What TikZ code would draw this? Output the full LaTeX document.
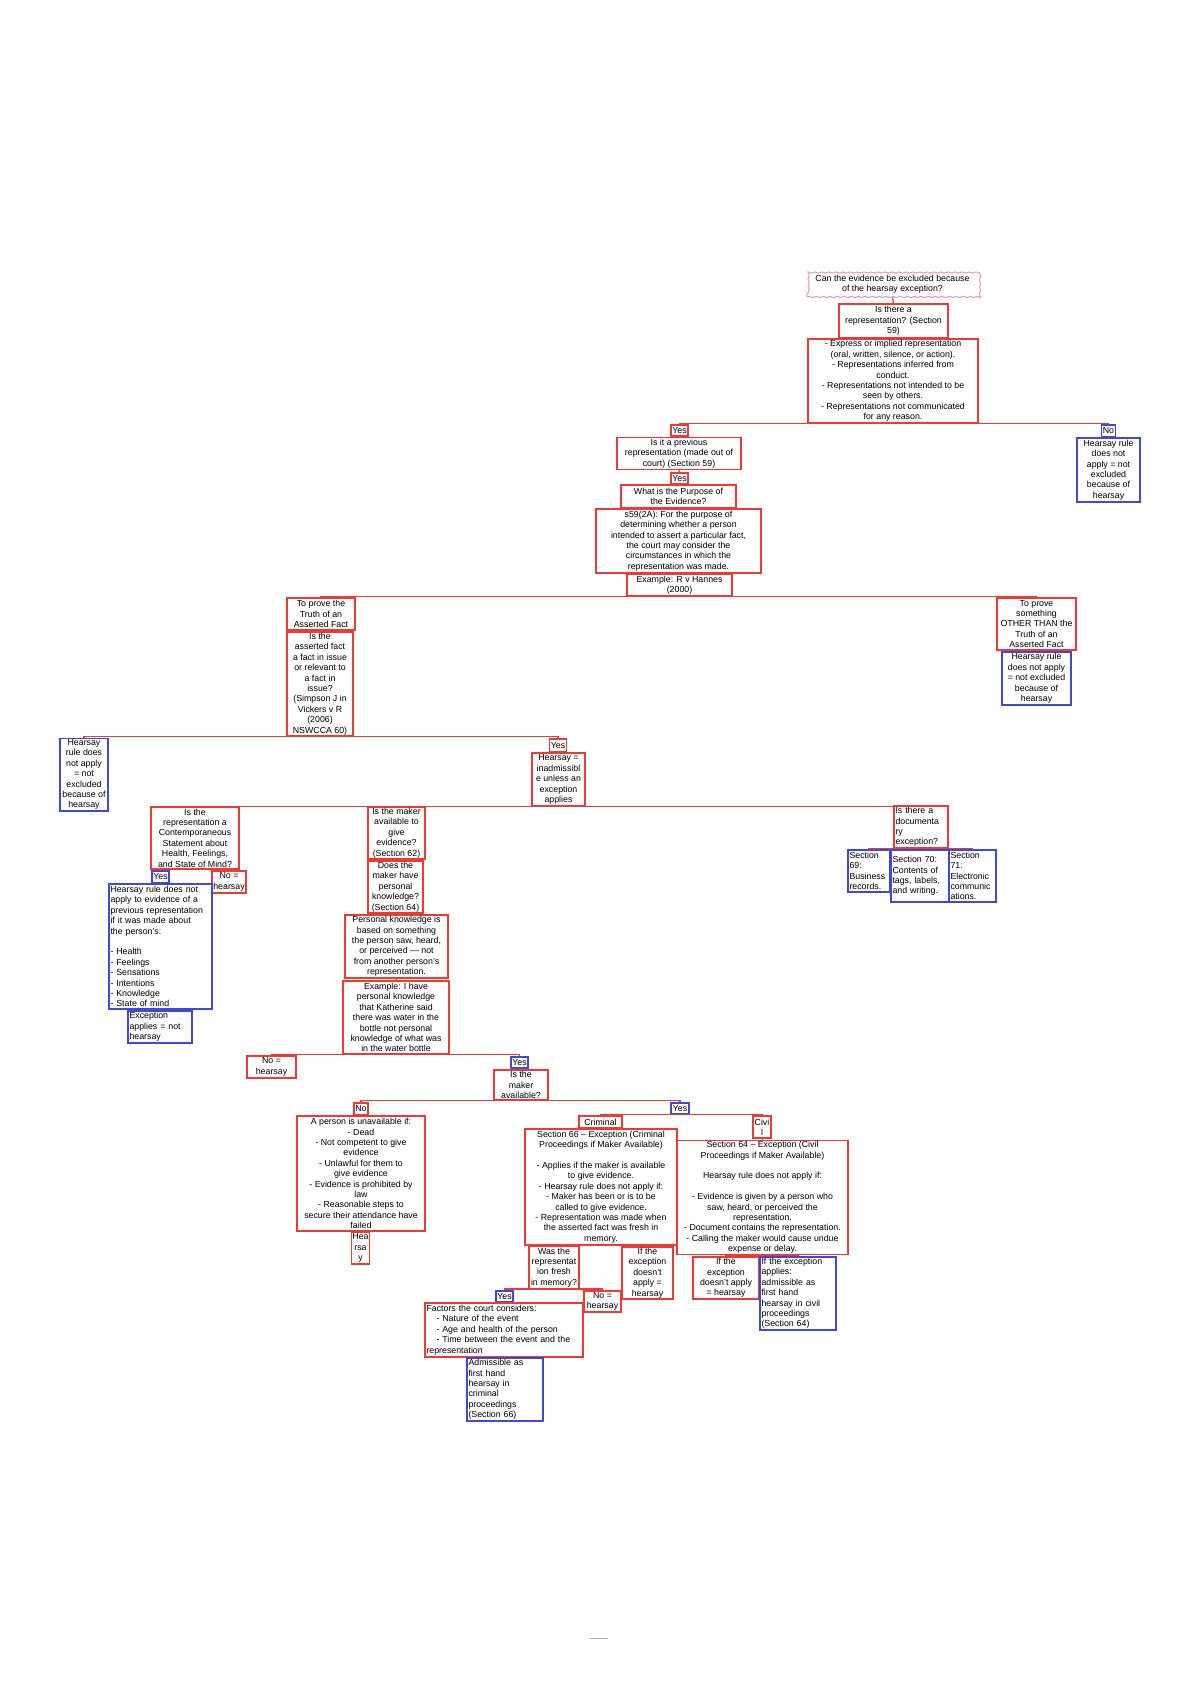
\documentclass[tikz,border=0pt]{standalone}
\usepackage{fontspec}
\setmainfont{Liberation Sans}
\usetikzlibrary{decorations.pathmorphing}
\definecolor{rd}{RGB}{238,58,50}
\definecolor{bl}{RGB}{62,72,220}
\definecolor{pk}{RGB}{232,150,200}
\tikzset{
 base/.style={font=\fontsize{8.8}{10.4}\selectfont, inner sep=1.2pt, align=center, line width=1.3pt},
 rbox/.style={base, draw=rd},
 bbox/.style={base, draw=bl},
 conn/.style={draw=rd, line width=1.2pt},
 titlebox/.style={base, draw=pk, line width=1pt, decorate, decoration={snake, amplitude=0.6pt, segment length=7pt}},
}
\newcommand\mybox[7]{%
 \pgfmathsetmacro\bxw{#5-#3}%
 \pgfmathsetmacro\bxh{#6-#4}%
 \pgfmathsetmacro\bxx{(#3+#5)/2}%
 \pgfmathsetmacro\bxy{(#4+#6)/2}%
 \node[#2, minimum width=\bxw pt, minimum height=\bxh pt] (#1) at (\bxx,\bxy) {#7};}
\newcommand\myboxl[7]{%
 \pgfmathsetmacro\bxw{#5-#3}%
 \pgfmathsetmacro\bxh{#6-#4}%
 \pgfmathsetmacro\bxt{#5-#3-3}%
 \pgfmathsetmacro\bxx{(#3+#5)/2}%
 \pgfmathsetmacro\bxy{(#4+#6)/2}%
 \node[#2, align=left, text width=\bxt pt, minimum width=\bxw pt, minimum height=\bxh pt] (#1) at (\bxx,\bxy) {#7};}
\begin{document}
\begin{tikzpicture}[x=1pt,y=-1pt]
\fill[white] (0,0) rectangle (1200,1698);
\useasboundingbox (0,0) rectangle (1200,1698);

\mybox{title}{titlebox}{807}{271}{978}{297}{Can the evidence be excluded because\\of the hearsay exception?}
\mybox{rep}{rbox}{839}{304}{948}{338}{Is there a\\representation? (Section\\59)}
\mybox{list}{rbox}{808}{339}{978}{423}{- Express or implied representation\\(oral, written, silence, or action).\\- Representations inferred from\\conduct.\\- Representations not intended to be\\seen by others.\\- Representations not communicated\\for any reason.}
\mybox{yes1}{rbox}{672}{425}{687}{436}{Yes}
\mybox{no1}{bbox}{1102}{425}{1115}{437}{No}
\mybox{hnot1}{bbox}{1077}{438}{1140}{502}{Hearsay rule\\does not\\apply = not\\excluded\\because of\\hearsay}
\mybox{prev}{rbox}{617}{438}{741}{469}{Is it a previous\\representation (made out of\\court) (Section 59)}
\mybox{yes2}{rbox}{672}{473}{687}{484}{Yes}
\mybox{purpose}{rbox}{621}{485}{736}{508}{What is the Purpose of\\the Evidence?}
\mybox{sfn}{rbox}{596}{509}{761}{573}{s59(2A): For the purpose of\\determining whether a person\\intended to assert a particular fact,\\the court may consider the\\circumstances in which the\\representation was made.}
\mybox{hannes}{rbox}{627}{574}{732}{596}{Example: R v Hannes\\(2000)}
\mybox{prove1}{rbox}{287}{598}{355}{630}{To prove the\\Truth of an\\Asserted Fact}
\mybox{simpson}{rbox}{287}{632}{353}{736}{Is the\\asserted fact\\a fact in issue\\or relevant to\\a fact in\\issue?\\(Simpson J in\\Vickers v R\\(2006)\\NSWCCA 60)}
\mybox{prove2}{rbox}{997}{598}{1076}{650}{To prove\\something\\OTHER THAN the\\Truth of an\\Asserted Fact}
\mybox{hnot3}{bbox}{1002}{652}{1071}{705}{Hearsay rule\\does not apply\\= not excluded\\because of\\hearsay}
\mybox{hnot2}{bbox}{60}{739}{108}{810}{Hearsay\\rule does\\not apply\\= not\\excluded\\because of\\hearsay}
\mybox{yes3}{rbox}{550}{739}{566}{752}{Yes}
\mybox{inadm}{rbox}{532}{753}{585}{806}{Hearsay =\\inadmissibl\\e unless an\\exception\\applies}
\mybox{contemp}{rbox}{151}{807}{239}{869}{Is the\\representation a\\Contemporaneous\\Statement about\\Health, Feelings,\\and State of Mind?}
\mybox{yesC}{bbox}{153}{871}{168}{883}{Yes}
\mybox{noC}{rbox}{212}{871}{246}{893}{No =\\hearsay}
\myboxl{hrule}{bbox}{109}{884}{212}{1009}{Hearsay rule does not\\apply to evidence of a\\previous representation\\if it was made about\\the person's:\\[10.4pt]- Health\\- Feelings\\- Sensations\\- Intentions\\- Knowledge\\- State of mind}
\myboxl{excC}{bbox}{128}{1011}{192}{1043}{Exception\\applies = not\\hearsay}
\mybox{maker}{rbox}{368}{807}{425}{859}{Is the maker\\available to\\give\\evidence?\\(Section 62)}
\mybox{pk}{rbox}{368}{861}{423}{913}{Does the\\maker have\\personal\\knowledge?\\(Section 64)}
\mybox{pkdef}{rbox}{345}{915}{448}{978}{Personal knowledge is\\based on something\\the person saw, heard,\\or perceived — not\\from another person's\\representation.}
\mybox{pkex}{rbox}{343}{981}{449}{1054}{Example: I have\\personal knowledge\\that Katherine said\\there was water in the\\bottle not personal\\knowledge of what was\\in the water bottle}
\myboxl{doc}{rbox}{894}{806}{948}{848}{Is there a\\documenta\\ry\\exception?}
\myboxl{s69}{bbox}{848}{850}{890}{892}{Section\\69:\\Business\\records.}
\myboxl{s70}{bbox}{891}{850}{949}{902}{Section 70:\\Contents of\\tags, labels,\\and writing.}
\myboxl{s71}{bbox}{949}{850}{996}{902}{Section\\71:\\Electronic\\communic\\ations.}
\mybox{noH3}{rbox}{247}{1056}{296}{1078}{No =\\hearsay}
\mybox{yes4}{bbox}{511}{1057}{528}{1068}{Yes}
\mybox{maker2}{rbox}{494}{1070}{548}{1100}{Is the\\maker\\available?}
\mybox{no4}{rbox}{354}{1103}{368}{1115}{No}
\mybox{yes5}{bbox}{671}{1103}{689}{1114}{Yes}
\mybox{unav}{rbox}{297}{1116}{425}{1231}{A person is unavailable if:\\- Dead\\- Not competent to give\\evidence\\- Unlawful for them to\\give evidence\\- Evidence is prohibited by\\law\\- Reasonable steps to\\secure their attendance have\\failed}
\mybox{hea}{rbox}{352}{1232}{369}{1264}{Hea\\rsa\\y}
\mybox{crim}{rbox}{579}{1116}{622}{1128}{Criminal}
\mybox{civ}{rbox}{753}{1116}{771}{1138}{Civi\\l}
\mybox{crimbig}{rbox}{525}{1129}{677}{1245}{Section 66 – Exception (Criminal\\Proceedings if Maker Available)\\[10.4pt]- Applies if the maker is available\\to give evidence.\\- Hearsay rule does not apply if:\\- Maker has been or is to be\\called to give evidence.\\- Representation was made when\\the asserted fact was fresh in\\memory.}
\mybox{civbig}{rbox}{677}{1141}{848}{1254}{Section 64 – Exception (Civil\\Proceedings if Maker Available)\\[10.4pt]Hearsay rule does not apply if:\\[10.4pt]- Evidence is given by a person who\\saw, heard, or perceived the\\representation.\\- Document contains the representation.\\- Calling the maker would cause undue\\expense or delay.}
\mybox{fresh}{rbox}{529}{1247}{579}{1288}{Was the\\representat\\ion fresh\\in memory?}
\mybox{ifnot1}{rbox}{622}{1247}{673}{1299}{If the\\exception\\doesn't\\apply =\\hearsay}
\mybox{yes6}{bbox}{497}{1291}{512}{1302}{Yes}
\mybox{noH5}{rbox}{584}{1291}{621}{1312}{No =\\hearsay}
\mybox{ifnot2}{rbox}{693}{1257}{759}{1299}{If the\\exception\\doesn't apply\\= hearsay}
\myboxl{ifapp}{bbox}{760}{1257}{836}{1330}{If the exception\\applies:\\admissible as\\first hand\\hearsay in civil\\proceedings\\(Section 64)}
\myboxl{factors}{rbox}{425}{1303}{583}{1357}{Factors the court considers:\\\hspace*{10pt}- Nature of the event\\\hspace*{10pt}- Age and health of the person\\\hspace*{10pt}- Time between the event and the\\representation}
\myboxl{adm}{bbox}{467}{1358}{543}{1421}{Admissible as\\first hand\\hearsay in\\criminal\\proceedings\\(Section 66)}

% connectors
\draw[conn] (title.south) -- (rep.north);
\draw[conn] (yes1.north) |- (list.south) -| (no1.north);
\draw[conn] (no1.south) -- (hnot1.north);
\draw[conn] (yes1.south) -- (prev.north);
\draw[conn] (prev.south) -- (yes2.north);
\draw[conn] (yes2.south) -- (purpose.north);
\draw[conn] (prove1.north) |- (hannes.south) -| (prove2.north);
\draw[conn] (prove1.south) -- (simpson.north);
\draw[conn] (prove2.south) -- (hnot3.north);
\draw[conn] (hnot2.north) |- (simpson.south) -| (yes3.north);
\draw[conn] (yes3.south) -- (inadm.north);
\draw[conn] (contemp.north) |- (inadm.south) -| (doc.north);
\draw[conn] (yesC.north) |- (contemp.south) -| (noC.north);
\draw[conn] (yesC.south) -- (hrule.north);
\draw[conn] (hrule.south) -- (excC.north);
\draw[conn] (maker.south) -- (pk.north);
\draw[conn] (pk.south) -- (pkdef.north);
\draw[conn] (pkdef.south) -- (pkex.north);
\draw[conn] (noH3.north) |- (pkex.south) -| (yes4.north);
\draw[conn] (yes4.south) -- (maker2.north);
\draw[conn] (no4.north) |- (maker2.south) -| (yes5.north);
\draw[conn] (no4.south) -- (unav.north);
\draw[conn] (unav.south) -- (hea.north);
\draw[conn] (crim.north) |- (yes5.south) -| (civ.north);
\draw[conn] (crim.south) -- (crimbig.north);
\draw[conn] (civ.south) -- (civbig.north);
\draw[conn] (fresh.north) |- (crimbig.south) -| (ifnot1.north);
\draw[conn] (yes6.north) |- (fresh.south) -| (noH5.north);
\draw[conn] (yes6.south) -- (factors.north);
\draw[conn] (factors.south) -- (adm.north);
\draw[conn] (ifnot2.north) |- (civbig.south) -| (ifapp.north);
\draw[conn] (s69.north) |- (doc.south) -| (s71.north);

\draw[gray!60, line width=0.8pt] (590,1638) -- (608,1638);
\end{tikzpicture}
\end{document}
